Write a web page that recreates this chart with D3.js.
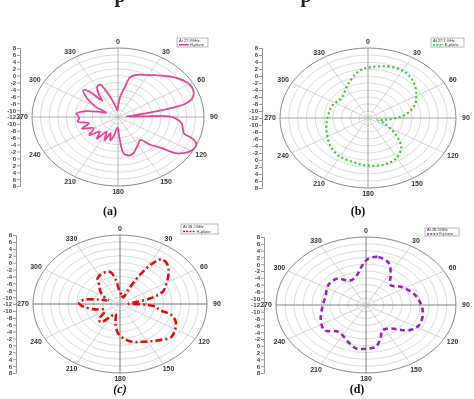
<!DOCTYPE html>
<html>
<head>
<meta charset="utf-8">
<script src="https://cdn.jsdelivr.net/npm/d3@7"></script>
<style>
  body { margin: 0; background: #fff; }
  svg { display: block; will-change: transform; transform: translateZ(0); }
</style>
</head>
<body>
<div id="chart"></div>
<script>
// values (angle in degrees, gain in dB)
const anglesA = [0,5,10,14,20,25,35,45,55,62,68,73,76,78,80,83,86,88,89,92,97,103,107,110,113,118,123,128,132,137,142,148,155,162,168,173,177,182,190,195,200,205,212,218,225,232,240,248,255,262,268,276,282,288,294,300,307,314,318,322,326,331,336,340,345,350,355];
const gainA   = [-9,-6,-3.5,0,1,1.5,2.8,4.7,6.5,7.2,7,6,4.4,1,-4,-8.5,-10,-6,0,1.5,2.9,3.5,4,6.5,7.8,7.9,7,5,1.3,-1,-3.6,-3,-2,-0.8,-0.6,-1.4,-6,-9,-6.5,-5,-7,-4.5,-7,-4,-6,-3.5,-5.5,-3,-5,-2.5,-3,-2.3,-4,-7,-9,-6,-3,-0.8,-2,-6,-4,-2,-1.7,-4,-7,-9,-10];

const anglesB = [0,17,32,45,59,71,84,98,104,112,124,133,139,151,164,180,197,213,228,253,275,295,313,334,348,355];
const gainB   = [2.4,3.4,3.6,2.6,0.8,-0.8,-3.6,-8,-9.7,-8,-5.1,-2.1,-0.5,1.2,1.8,1.6,1,0.6,-0.4,-2.1,-2.9,-3.2,-3.7,-1.5,1,2];

const anglesC = [0,10,20,25,28,32,36,42,48,55,62,70,77,83,88,92,96,100,105,110,115,122,129,138,146,156,166,175,183,190,200,210,220,228,235,245,255,265,272,278,285,292,298,304,310,318,325,332,340,347,353,357];
const gainC   = [-8.5,-9.5,-10,-7,-3,1.5,4,4,3,1.5,0,-1.5,-5,-9,-10,-6,-3.5,-3,0.2,1.5,2.2,2.8,3.2,2,1,0,-0.7,-2,-3.5,-6,-9,-8,-5.1,-5.5,-7.5,-8,-6,-3.5,-2.6,-3.5,-7,-9,-8,-7,-6,-5,-3,-2.4,-2.2,-2.6,-5.5,-8];

const anglesD = [2,11,23,32,43,55,76,99,117,128,142,154,162,170,179,189,197,218,231,246,273,285,304,320,334,347,356];
const gainD   = [1.6,2.4,1.2,-1.7,-4,-2.6,-0.6,0.8,1.2,0.1,-3.2,-3.7,-1.6,0.5,0.8,1,0,-2,-0.2,-1,-2.5,-2.7,-1.8,-1.9,-4,-3,-0.3];

const radialTicks = [8,6,4,2,0,-2,-4,-6,-8,-10,-12,-10,-8,-6,-4,-2,0,2,4,6,8];
const ringLevels = [-10,-8,-6,-4,-2,0,2,4,6,8];
const angleTicks = [0,30,60,90,120,150,180,210,240,270,300,330];

const freqLabels = ["At 27.8GHz", "At 27.1 GHz", "At 28.5GHz", "At 28.5GHz"];
const planeLabels = ["H-plane", "E-plane", "H-plane", "E-plane"];
const captions = ["(a)", "(b)", "(c)", "(d)"];

// layout of the four panels
const panels = [
  { a: anglesA, g: gainA, cx: 118, cy: 117, rx: 86, ry: 69, axisX: 20, color: "#e4479b", width: 1.8, dash: null,
    cross: "#a0a0a0", leg: [177, 38, 31, 9], cap: [110, 211], capStyle: "normal" },
  { a: anglesB, g: gainB, cx: 368, cy: 118, rx: 88, ry: 70, axisX: 262, color: "#33cc33", width: 2.2, dash: "2,2.6",
    cross: "#909090", leg: [431, 38, 33, 9], cap: [358, 211], capStyle: "normal" },
  { a: anglesC, g: gainC, cx: 120, cy: 304, rx: 87, ry: 69, axisX: 16, color: "#e01010", width: 2.6, dash: "7,3,2,3",
    cross: "#555", leg: [181, 224, 37, 10], cap: [120, 389], capStyle: "italic" },
  { a: anglesD, g: gainD, cx: 366, cy: 305, rx: 90, ry: 68, axisX: 264, color: "#9b1fc9", width: 2.6, dash: "5,3.5",
    cross: "#666", leg: [425, 228, 34, 8], cap: [357, 389], capStyle: "normal" }
];

const W = 474, H = 399;
const svg = d3.select("#chart").append("svg")
  .attr("width", W)
  .attr("height", H);

svg.append("rect").attr("width", W).attr("height", H).attr("fill", "#fff");

// title line above the figure, only its descenders are inside the picture
svg.append("g")
  .attr("font-family", "Liberation Serif, serif")
  .attr("font-weight", "bold")
  .attr("font-size", 20)
  .attr("fill", "#222")
  .selectAll("text")
  .data([120, 306])
  .join("text")
  .attr("x", d => d)
  .attr("y", 2)
  .attr("text-anchor", "middle")
  .text("p");

// radial scale: -12 dB at the centre, 8 dB at the rim
const r = d3.scaleLinear().domain([-12, 8]).range([0, 1]);
const rad = d => d * Math.PI / 180;

panels.forEach((p, k) => {
  const g = svg.append("g");
  const px = (ang, v) => p.cx + p.rx * r(v) * Math.sin(rad(ang));
  const py = (ang, v) => p.cy - p.ry * r(v) * Math.cos(rad(ang));

  // rings
  g.append("g")
    .selectAll("ellipse")
    .data(ringLevels)
    .join("ellipse")
    .attr("cx", p.cx)
    .attr("cy", p.cy)
    .attr("rx", d => p.rx * r(d))
    .attr("ry", d => p.ry * r(d))
    .attr("fill", "none")
    .attr("stroke", d => d === 8 ? "#8a8a8a" : "#d2d2d2")
    .attr("stroke-width", d => d === 8 ? 1 : 0.8);

  // spokes
  g.append("g")
    .selectAll("line")
    .data(angleTicks)
    .join("line")
    .attr("x1", p.cx)
    .attr("y1", p.cy)
    .attr("x2", d => px(d, 8))
    .attr("y2", d => py(d, 8))
    .attr("stroke", d => d % 90 === 0 ? p.cross : "#c8c8c8")
    .attr("stroke-width", 0.8);

  // angle labels
  g.append("g")
    .attr("font-family", "Liberation Sans, Arial, sans-serif")
    .attr("font-weight", "bold")
    .attr("font-size", 7)
    .attr("fill", "#333")
    .selectAll("text")
    .data(angleTicks)
    .join("text")
    .attr("x", d => p.cx + (p.rx + 10) * Math.sin(rad(d)))
    .attr("y", d => p.cy - (p.ry + 6) * Math.cos(rad(d)))
    .attr("dy", "0.35em")
    .attr("text-anchor", "middle")
    .text(d => d);

  // left dB axis
  const yIdx = d3.scalePoint()
    .domain(d3.range(radialTicks.length))
    .range([p.cy - p.ry, p.cy + p.ry]);
  const ax = g.append("g")
    .attr("transform", `translate(${p.axisX},0)`)
    .call(d3.axisLeft(yIdx).tickSize(3).tickPadding(1).tickFormat(i => radialTicks[i]));
  ax.select(".domain").attr("stroke", "#999");
  ax.selectAll(".tick line").attr("stroke", "#999");
  ax.selectAll(".tick text")
    .attr("font-family", "Liberation Sans, Arial, sans-serif")
    .attr("font-weight", "bold")
    .attr("font-size", 6)
    .attr("fill", "#444");

  // pattern curve
  const pts = p.a.map((ang, i) => [ang, p.g[i]]);
  const line = d3.line()
    .x(d => px(d[0], d[1]))
    .y(d => py(d[0], d[1]))
    .curve(d3.curveCatmullRomClosed.alpha(0.5));
  g.append("path")
    .attr("d", line(pts))
    .attr("fill", "none")
    .attr("stroke", p.color)
    .attr("stroke-width", p.width)
    .attr("stroke-dasharray", p.dash)
    .attr("stroke-linejoin", "round");

  // legend
  const [lx, ly, lw, lh] = p.leg;
  const lg = g.append("g").attr("transform", `translate(${lx},${ly})`);
  lg.append("rect")
    .attr("width", lw)
    .attr("height", lh)
    .attr("fill", "#fff")
    .attr("stroke", "#888")
    .attr("stroke-width", 0.6);
  lg.append("text")
    .attr("x", 2)
    .attr("y", lh * 0.42)
    .attr("font-family", "Liberation Sans, Arial, sans-serif")
    .attr("font-size", 4)
    .attr("fill", "#333")
    .text(freqLabels[k]);
  lg.append("line")
    .attr("x1", 2)
    .attr("x2", lw * 0.38)
    .attr("y1", lh * 0.75)
    .attr("y2", lh * 0.75)
    .attr("stroke", p.color)
    .attr("stroke-width", 1.6)
    .attr("stroke-dasharray", p.dash ? "2,1.2" : null);
  lg.append("text")
    .attr("x", lw * 0.42)
    .attr("y", lh * 0.9)
    .attr("font-family", "Liberation Sans, Arial, sans-serif")
    .attr("font-size", 4)
    .attr("fill", "#333")
    .text(planeLabels[k]);

  // caption
  svg.append("text")
    .attr("x", p.cap[0])
    .attr("y", p.cap[1])
    .attr("dy", "0.35em")
    .attr("text-anchor", "middle")
    .attr("font-family", "Liberation Serif, serif")
    .attr("font-weight", "bold")
    .attr("font-style", p.capStyle)
    .attr("font-size", 12)
    .attr("fill", "#111")
    .text(captions[k]);
});
</script>
</body>
</html>
